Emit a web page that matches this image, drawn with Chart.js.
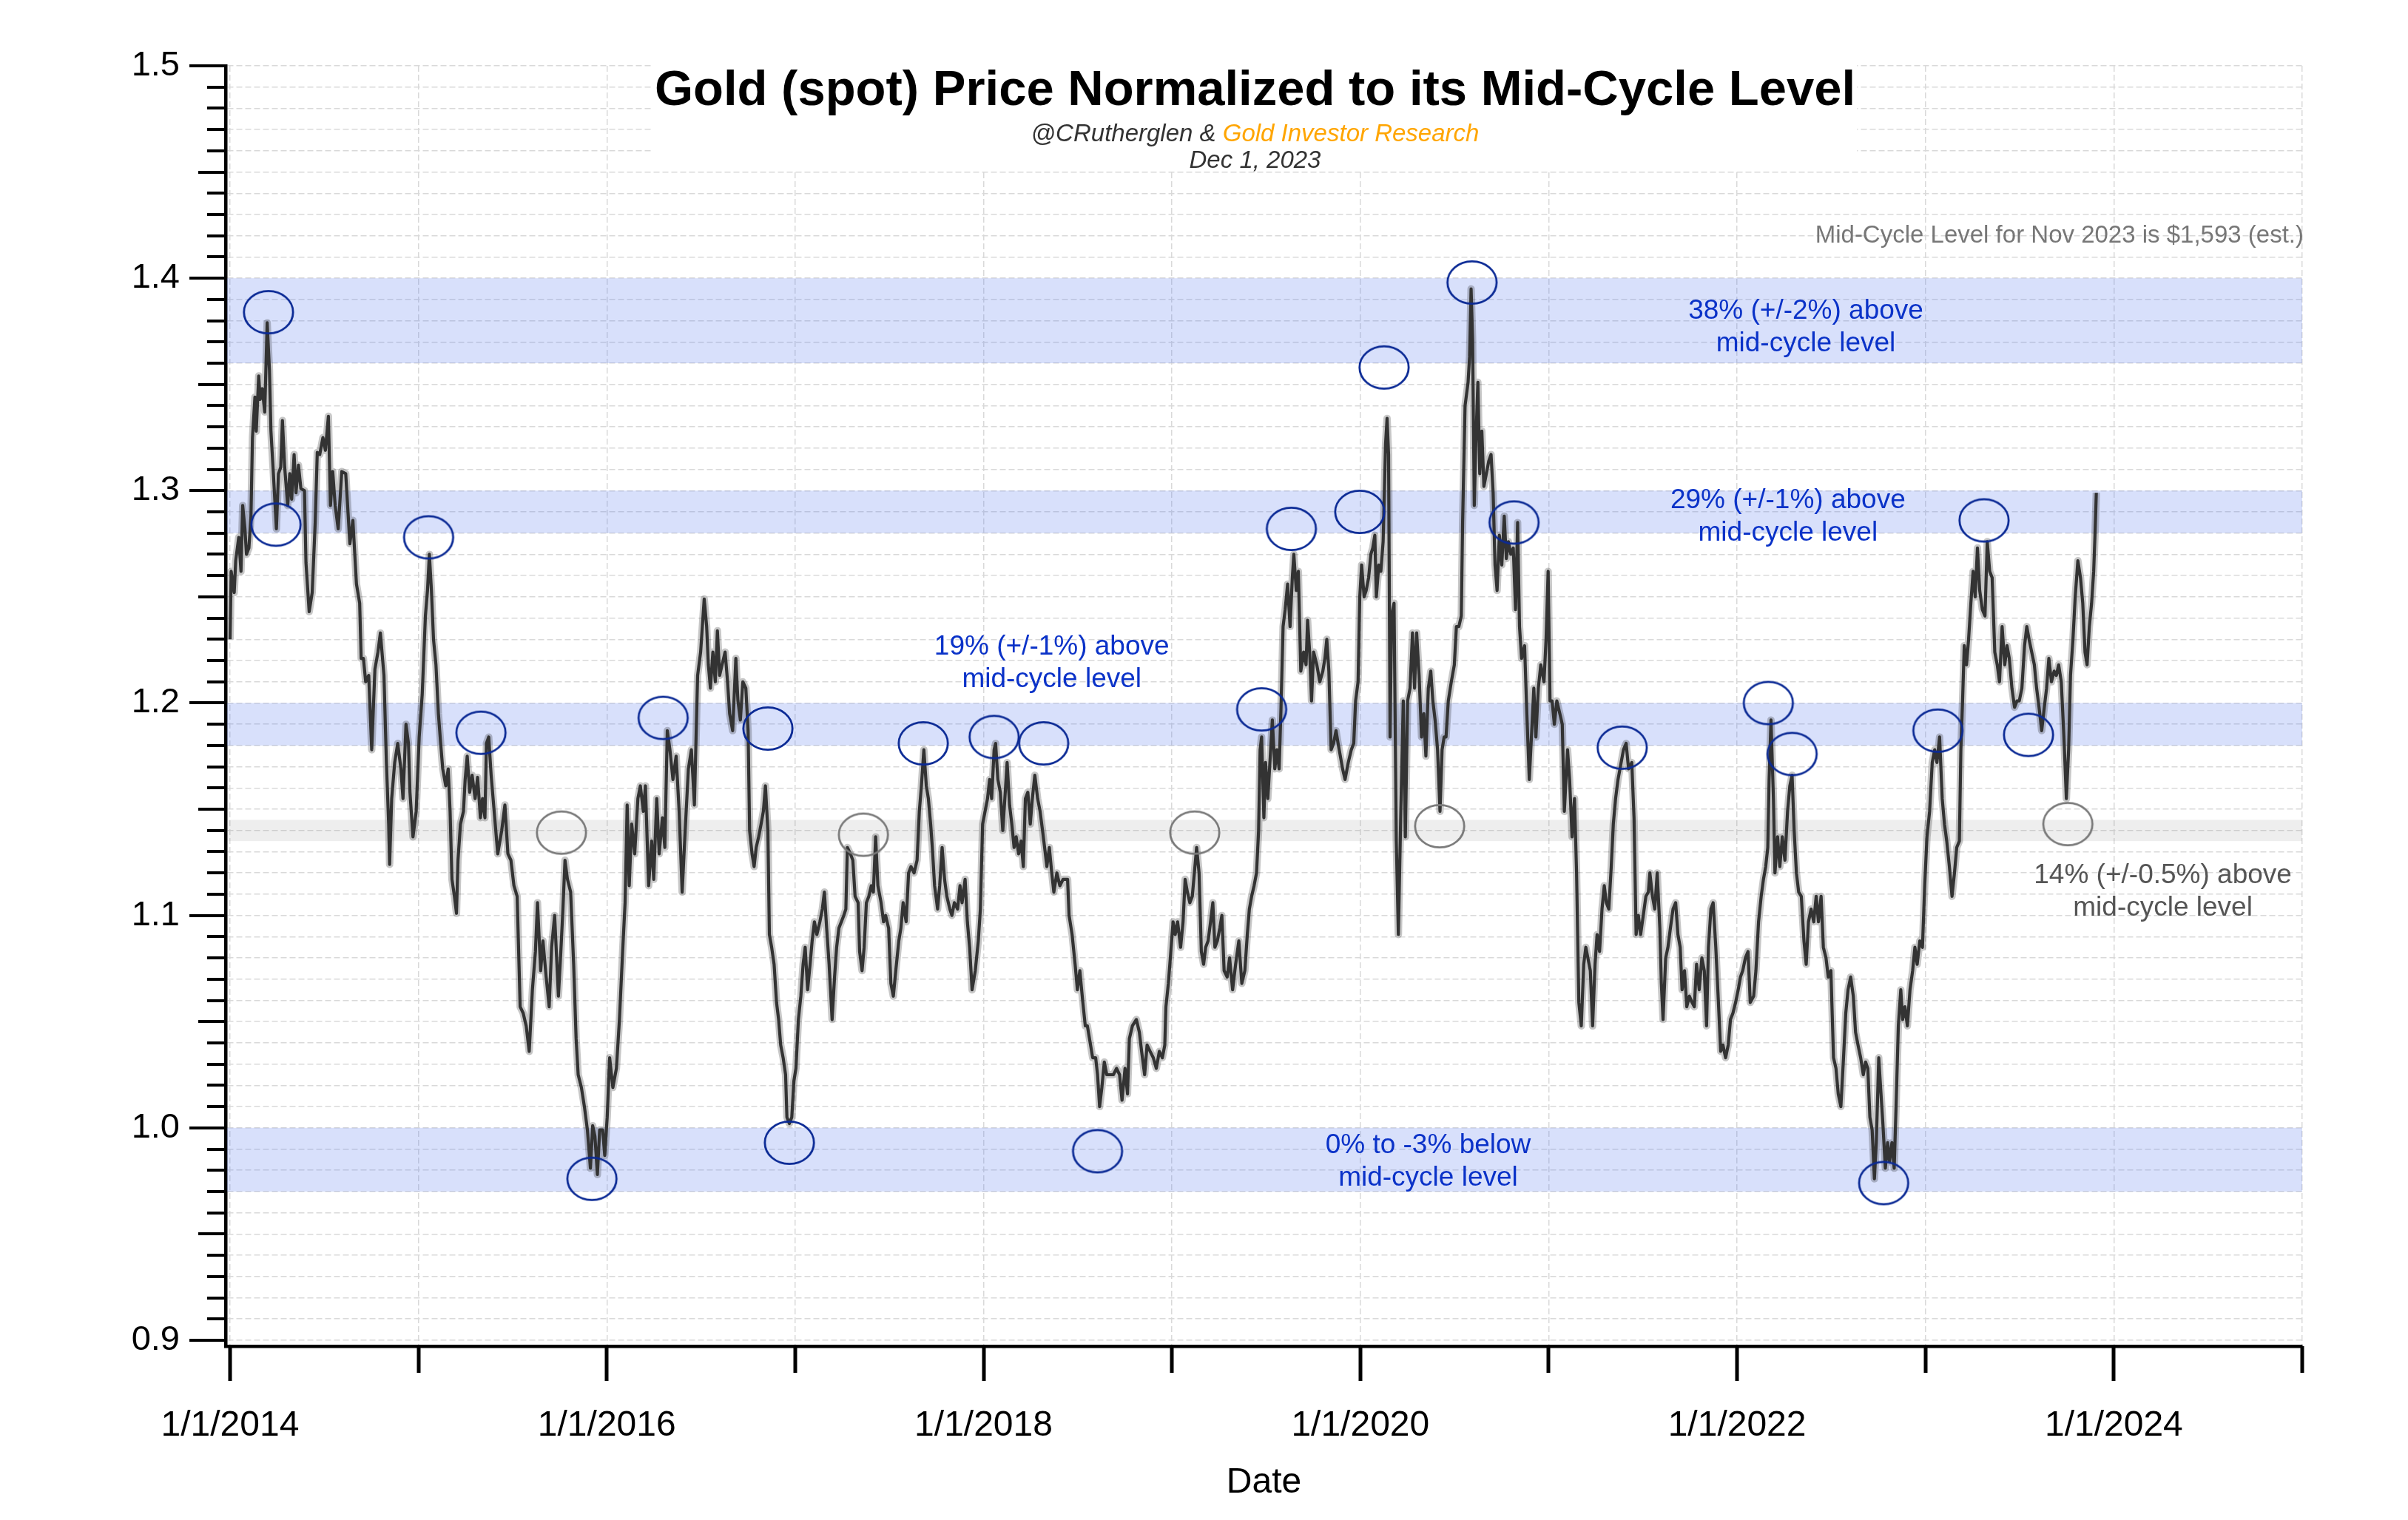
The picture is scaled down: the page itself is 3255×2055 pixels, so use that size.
<!DOCTYPE html>
<html>
<head>
<meta charset="utf-8">
<script src="https://cdn.jsdelivr.net/npm/chart.js@4.4.0/dist/chart.umd.min.js"></script>
<style>
html,body{margin:0;padding:0;background:#fff;}
#wrap{width:3255px;height:2055px;}
</style>
</head>
<body>
<div id="wrap"><canvas id="c" width="3255" height="2055"></canvas></div>
<script>
// ---------------- DATA ----------------
// Gold spot price divided by its mid-cycle level; [decimal year, ratio]
const price2014 = [
[2014.000,1.230],[2014.006,1.262],[2014.022,1.252],[2014.030,1.267],[2014.046,1.278],[2014.058,1.262],[2014.067,1.293],[2014.079,1.282],[2014.087,1.270],[2014.100,1.273],
[2014.111,1.288],[2014.119,1.325],[2014.132,1.344],[2014.139,1.328],[2014.152,1.354],[2014.160,1.343],[2014.171,1.348],[2014.184,1.337],[2014.197,1.379],[2014.209,1.357],
[2014.217,1.328],[2014.230,1.308],[2014.246,1.282],[2014.257,1.308],[2014.269,1.311],[2014.278,1.333],[2014.290,1.311],[2014.306,1.293],[2014.317,1.308],[2014.327,1.296],
[2014.340,1.317],[2014.350,1.299],[2014.363,1.312],[2014.376,1.301],[2014.395,1.300],[2014.403,1.266],[2014.420,1.243],[2014.436,1.252],[2014.452,1.285],[2014.463,1.318],
[2014.476,1.317],[2014.493,1.325],[2014.506,1.319],[2014.522,1.335],[2014.533,1.293],[2014.545,1.309],[2014.558,1.293],[2014.574,1.282],[2014.593,1.309],[2014.614,1.308],
[2014.636,1.275],[2014.652,1.286],[2014.671,1.256],[2014.688,1.247],[2014.696,1.221],[2014.708,1.221],[2014.720,1.210],[2014.736,1.213],[2014.752,1.178],[2014.769,1.216],
[2014.785,1.224],[2014.798,1.233],[2014.817,1.213],[2014.830,1.172],[2014.842,1.143],[2014.847,1.124],[2014.858,1.155],[2014.874,1.172],[2014.890,1.181],[2014.907,1.169],
[2014.918,1.155],[2014.934,1.190],[2014.947,1.181],[2014.955,1.158],[2014.971,1.137],[2014.988,1.149]
];
const price2015 = [
[2015.004,1.184],[2015.020,1.204],[2015.037,1.241],[2015.048,1.253],[2015.058,1.270],[2015.069,1.253],[2015.080,1.230],[2015.093,1.218],[2015.106,1.195],[2015.118,1.181],
[2015.129,1.169],[2015.145,1.161],[2015.158,1.169],[2015.168,1.149],[2015.178,1.117],[2015.191,1.109],[2015.202,1.101],[2015.210,1.126],[2015.223,1.143],[2015.239,1.149],
[2015.248,1.164],[2015.259,1.175],[2015.272,1.158],[2015.285,1.166],[2015.301,1.155],[2015.314,1.165],[2015.329,1.146],[2015.340,1.155],[2015.353,1.146],[2015.361,1.181],
[2015.373,1.184],[2015.386,1.166],[2015.402,1.149],[2015.421,1.129],[2015.442,1.140],[2015.459,1.152],[2015.475,1.129],[2015.491,1.126],[2015.507,1.114],[2015.524,1.109],
[2015.540,1.057],[2015.556,1.054],[2015.572,1.048],[2015.588,1.036],[2015.605,1.065],[2015.621,1.083],[2015.632,1.106],[2015.649,1.074],[2015.661,1.088],[2015.678,1.071],
[2015.694,1.057],[2015.707,1.085],[2015.723,1.100],[2015.743,1.062],[2015.756,1.083],[2015.767,1.103],[2015.778,1.126],[2015.791,1.117],[2015.808,1.111],[2015.824,1.077],
[2015.837,1.042],[2015.848,1.025],[2015.865,1.019],[2015.881,1.010],[2015.897,0.999],[2015.913,0.981],[2015.925,1.001],[2015.937,0.996],[2015.950,0.978],[2015.962,0.999],
[2015.978,0.999],[2015.989,0.987]
];
const price2016 = [
[2016.002,1.005],[2016.015,1.033],[2016.032,1.019],[2016.051,1.028],[2016.067,1.051],[2016.084,1.083],[2016.097,1.106],[2016.108,1.152],[2016.119,1.114],[2016.132,1.143],
[2016.148,1.129],[2016.165,1.155],[2016.178,1.161],[2016.194,1.149],[2016.205,1.161],[2016.222,1.114],[2016.238,1.135],[2016.249,1.117],[2016.265,1.155],[2016.278,1.129],
[2016.295,1.146],[2016.308,1.132],[2016.321,1.187],[2016.335,1.178],[2016.351,1.164],[2016.368,1.175],[2016.384,1.149],[2016.400,1.111],[2016.416,1.140],[2016.433,1.169],
[2016.449,1.178],[2016.465,1.152],[2016.482,1.213],[2016.498,1.224],[2016.517,1.249],[2016.530,1.236],[2016.539,1.218],[2016.550,1.207],[2016.563,1.224],[2016.576,1.210],
[2016.587,1.234],[2016.599,1.213],[2016.612,1.218],[2016.628,1.224],[2016.641,1.210],[2016.652,1.195],[2016.668,1.187],[2016.685,1.221],[2016.696,1.201],[2016.709,1.192],
[2016.722,1.210],[2016.738,1.207],[2016.750,1.187],[2016.758,1.140],[2016.771,1.129],[2016.782,1.123],[2016.793,1.132],[2016.806,1.137],[2016.819,1.143],[2016.831,1.149],
[2016.842,1.161],[2016.855,1.140],[2016.863,1.091],[2016.875,1.085],[2016.888,1.077],[2016.901,1.059],[2016.912,1.051],[2016.923,1.039],[2016.936,1.033],[2016.949,1.025],
[2016.956,1.005],[2016.969,1.002],[2016.982,1.005],[2016.993,1.022]
];
const price2017 = [
[2017.004,1.028],[2017.017,1.051],[2017.030,1.062],[2017.042,1.077],[2017.053,1.085],[2017.066,1.065],[2017.079,1.077],[2017.090,1.088],[2017.102,1.097],[2017.115,1.091],
[2017.131,1.097],[2017.144,1.103],[2017.155,1.111],[2017.167,1.094],[2017.180,1.077],[2017.196,1.051],[2017.209,1.071],[2017.220,1.085],[2017.232,1.094],[2017.245,1.097],
[2017.258,1.100],[2017.269,1.103],[2017.277,1.132],[2017.293,1.129],[2017.306,1.126],[2017.318,1.109],[2017.334,1.106],[2017.342,1.083],[2017.355,1.074],[2017.366,1.085],
[2017.378,1.106],[2017.391,1.109],[2017.404,1.114],[2017.415,1.111],[2017.427,1.137],[2017.439,1.114],[2017.456,1.106],[2017.469,1.097],[2017.480,1.100],[2017.496,1.094],
[2017.508,1.068],[2017.521,1.062],[2017.534,1.074],[2017.550,1.088],[2017.561,1.094],[2017.573,1.106],[2017.589,1.097],[2017.602,1.120],[2017.615,1.123],[2017.631,1.120],
[2017.647,1.126],[2017.659,1.149],[2017.670,1.161],[2017.683,1.178],[2017.696,1.161],[2017.707,1.155],[2017.719,1.143],[2017.728,1.132],[2017.740,1.114],[2017.756,1.103],
[2017.767,1.114],[2017.780,1.132],[2017.793,1.117],[2017.805,1.109],[2017.821,1.103],[2017.832,1.100],[2017.845,1.106],[2017.862,1.103],[2017.875,1.114],[2017.886,1.106],
[2017.902,1.117],[2017.914,1.097],[2017.926,1.085],[2017.939,1.065],[2017.956,1.074],[2017.972,1.088],[2017.983,1.103],[2017.995,1.143]
];
const price2018 = [
[2018.008,1.149],[2018.021,1.155],[2018.032,1.164],[2018.043,1.155],[2018.056,1.178],[2018.064,1.181],[2018.076,1.164],[2018.089,1.158],[2018.102,1.140],[2018.113,1.155],
[2018.125,1.172],[2018.138,1.152],[2018.150,1.143],[2018.162,1.132],[2018.173,1.137],[2018.186,1.129],[2018.199,1.135],[2018.211,1.123],[2018.222,1.155],[2018.235,1.158],
[2018.248,1.143],[2018.259,1.155],[2018.272,1.166],[2018.287,1.155],[2018.300,1.149],[2018.313,1.140],[2018.324,1.132],[2018.336,1.123],[2018.349,1.132],[2018.362,1.120],
[2018.373,1.111],[2018.389,1.120],[2018.405,1.114],[2018.422,1.117],[2018.446,1.117],[2018.454,1.100],[2018.470,1.091],[2018.486,1.077],[2018.498,1.065],[2018.511,1.074],
[2018.527,1.059],[2018.540,1.048],[2018.551,1.048],[2018.568,1.039],[2018.579,1.033],[2018.595,1.033],[2018.605,1.025],[2018.616,1.010],[2018.628,1.019],[2018.641,1.031],
[2018.654,1.025],[2018.670,1.025],[2018.689,1.025],[2018.706,1.028],[2018.722,1.025],[2018.735,1.013],[2018.751,1.028],[2018.764,1.016],[2018.774,1.042],[2018.790,1.048],
[2018.811,1.051],[2018.827,1.045],[2018.839,1.036],[2018.855,1.025],[2018.868,1.039],[2018.884,1.036],[2018.901,1.033],[2018.917,1.028],[2018.933,1.036],[2018.949,1.033],
[2018.962,1.039],[2018.968,1.057],[2018.981,1.068],[2018.994,1.083]
];
const price2019 = [
[2019.006,1.097],[2019.017,1.091],[2019.030,1.097],[2019.046,1.085],[2019.059,1.097],[2019.070,1.117],[2019.082,1.111],[2019.095,1.106],[2019.108,1.109],[2019.119,1.120],
[2019.131,1.132],[2019.144,1.120],[2019.156,1.083],[2019.168,1.077],[2019.179,1.085],[2019.192,1.088],[2019.205,1.097],[2019.217,1.106],[2019.228,1.085],[2019.241,1.088],
[2019.254,1.094],[2019.265,1.100],[2019.277,1.074],[2019.293,1.071],[2019.306,1.080],[2019.322,1.065],[2019.338,1.077],[2019.355,1.088],[2019.371,1.068],[2019.387,1.074],
[2019.400,1.091],[2019.411,1.103],[2019.423,1.109],[2019.436,1.114],[2019.449,1.120],[2019.460,1.140],[2019.468,1.178],[2019.476,1.184],[2019.488,1.146],[2019.497,1.172],
[2019.509,1.155],[2019.520,1.172],[2019.533,1.192],[2019.546,1.169],[2019.557,1.178],[2019.569,1.169],[2019.579,1.198],[2019.590,1.236],[2019.601,1.244],[2019.614,1.256],
[2019.627,1.236],[2019.639,1.259],[2019.647,1.270],[2019.660,1.253],[2019.671,1.262],[2019.684,1.215],[2019.699,1.224],[2019.712,1.218],[2019.720,1.239],[2019.731,1.224],
[2019.741,1.201],[2019.752,1.224],[2019.769,1.218],[2019.785,1.210],[2019.801,1.215],[2019.812,1.221],[2019.822,1.230],[2019.833,1.215],[2019.845,1.178],[2019.858,1.181],
[2019.871,1.187],[2019.882,1.181],[2019.894,1.175],[2019.906,1.169],[2019.919,1.164],[2019.936,1.172],[2019.952,1.178],[2019.965,1.181],[2019.975,1.201],[2019.988,1.210],
[2019.997,1.250]
];
const price2020 = [
[2020.007,1.265],[2020.020,1.250],[2020.031,1.253],[2020.044,1.259],[2020.056,1.270],[2020.066,1.273],[2020.077,1.279],[2020.085,1.250],[2020.098,1.265],[2020.109,1.262],
[2020.121,1.276],[2020.134,1.322],[2020.142,1.334],[2020.150,1.317],[2020.158,1.184],[2020.166,1.241],[2020.179,1.247],[2020.191,1.135],[2020.202,1.091],[2020.215,1.149],
[2020.228,1.201],[2020.239,1.137],[2020.251,1.201],[2020.264,1.207],[2020.277,1.233],[2020.288,1.207],[2020.299,1.233],[2020.312,1.213],[2020.325,1.184],[2020.337,1.195],
[2020.348,1.175],[2020.361,1.207],[2020.374,1.215],[2020.385,1.201],[2020.397,1.192],[2020.410,1.178],[2020.423,1.149],[2020.434,1.178],[2020.445,1.184],[2020.455,1.184],
[2020.467,1.201],[2020.483,1.210],[2020.499,1.218],[2020.510,1.236],[2020.523,1.236],[2020.536,1.241],[2020.543,1.285],[2020.556,1.340],[2020.572,1.351],[2020.580,1.363],
[2020.588,1.395],[2020.596,1.371],[2020.605,1.293],[2020.613,1.322],[2020.624,1.351],[2020.634,1.308],[2020.645,1.328],[2020.656,1.302],[2020.669,1.308],[2020.682,1.314],
[2020.694,1.317],[2020.705,1.299],[2020.715,1.265],[2020.726,1.253],[2020.738,1.279],[2020.751,1.265],[2020.764,1.288],[2020.775,1.268],[2020.786,1.276],[2020.799,1.270],
[2020.812,1.273],[2020.824,1.244],[2020.835,1.285],[2020.845,1.236],[2020.856,1.221],[2020.872,1.227],[2020.884,1.195],[2020.897,1.164],[2020.910,1.187],[2020.921,1.207],
[2020.932,1.184],[2020.945,1.207],[2020.958,1.218],[2020.975,1.210],[2020.986,1.230],[2020.997,1.262]
];
const price2021 = [
[2021.007,1.201],[2021.018,1.201],[2021.030,1.190],[2021.043,1.201],[2021.059,1.195],[2021.072,1.190],[2021.083,1.149],[2021.100,1.178],[2021.111,1.164],[2021.124,1.137],
[2021.137,1.155],[2021.148,1.120],[2021.160,1.059],[2021.173,1.048],[2021.186,1.077],[2021.197,1.085],[2021.208,1.080],[2021.221,1.074],[2021.233,1.048],[2021.246,1.077],
[2021.257,1.091],[2021.270,1.083],[2021.283,1.103],[2021.295,1.114],[2021.306,1.106],[2021.319,1.103],[2021.332,1.123],[2021.343,1.143],[2021.355,1.155],[2021.368,1.164],
[2021.397,1.178],[2021.411,1.181],[2021.424,1.169],[2021.441,1.172],[2021.453,1.146],[2021.464,1.091],[2021.476,1.100],[2021.488,1.091],[2021.502,1.100],[2021.516,1.109],
[2021.529,1.111],[2021.537,1.120],[2021.551,1.109],[2021.563,1.103],[2021.576,1.120],[2021.590,1.094],[2021.598,1.068],[2021.607,1.051],[2021.621,1.080],[2021.633,1.085],
[2021.646,1.094],[2021.660,1.103],[2021.674,1.106],[2021.686,1.091],[2021.698,1.085],[2021.708,1.065],[2021.721,1.074],[2021.733,1.057],[2021.747,1.062],[2021.761,1.059],
[2021.773,1.057],[2021.785,1.077],[2021.799,1.065],[2021.813,1.080],[2021.826,1.074],[2021.838,1.048],[2021.848,1.085],[2021.861,1.103],[2021.873,1.106],[2021.887,1.085],
[2021.901,1.059],[2021.913,1.036],[2021.925,1.039],[2021.939,1.033],[2021.953,1.039],[2021.965,1.051],[2021.978,1.054],[2021.992,1.059]
];
const price2022 = [
[2022.006,1.065],[2022.018,1.071],[2022.030,1.074],[2022.044,1.080],[2022.058,1.083],[2022.070,1.059],[2022.088,1.062],[2022.100,1.074],[2022.114,1.097],[2022.128,1.109],
[2022.140,1.117],[2022.152,1.123],[2022.163,1.132],[2022.170,1.164],[2022.180,1.192],[2022.193,1.155],[2022.201,1.120],[2022.215,1.137],[2022.227,1.123],[2022.240,1.137],
[2022.254,1.126],[2022.268,1.149],[2022.280,1.161],[2022.292,1.166],[2022.303,1.140],[2022.315,1.120],[2022.327,1.111],[2022.341,1.109],[2022.355,1.088],[2022.367,1.077],
[2022.379,1.097],[2022.393,1.103],[2022.407,1.097],[2022.420,1.109],[2022.432,1.097],[2022.446,1.109],[2022.458,1.085],[2022.472,1.080],[2022.484,1.071],[2022.498,1.074],
[2022.512,1.033],[2022.525,1.028],[2022.537,1.016],[2022.551,1.010],[2022.565,1.033],[2022.577,1.054],[2022.589,1.065],[2022.603,1.071],[2022.617,1.062],[2022.629,1.045],
[2022.642,1.039],[2022.656,1.033],[2022.670,1.025],[2022.682,1.031],[2022.694,1.028],[2022.705,1.005],[2022.717,0.999],[2022.729,0.976],[2022.739,0.993],[2022.752,1.033],
[2022.764,1.016],[2022.774,1.002],[2022.787,0.981],[2022.799,0.993],[2022.809,0.984],[2022.822,0.993],[2022.834,0.981],[2022.844,1.010],[2022.856,1.048],[2022.869,1.065],
[2022.879,1.051],[2022.891,1.057],[2022.904,1.048],[2022.918,1.065],[2022.932,1.074],[2022.944,1.085],[2022.956,1.077],[2022.970,1.088],[2022.984,1.085],[2022.996,1.114]
];
const price2023 = [
[2023.008,1.137],[2023.022,1.149],[2023.036,1.172],[2023.049,1.178],[2023.061,1.172],[2023.075,1.184],[2023.089,1.155],[2023.101,1.143],[2023.113,1.135],[2023.127,1.123],
[2023.141,1.109],[2023.154,1.120],[2023.166,1.132],[2023.180,1.135],[2023.188,1.178],[2023.197,1.201],[2023.206,1.227],[2023.218,1.218],[2023.229,1.230],[2023.241,1.247],
[2023.253,1.262],[2023.264,1.250],[2023.276,1.273],[2023.288,1.253],[2023.302,1.244],[2023.316,1.241],[2023.328,1.276],[2023.341,1.262],[2023.354,1.259],[2023.368,1.224],
[2023.381,1.218],[2023.393,1.210],[2023.407,1.236],[2023.421,1.218],[2023.433,1.227],[2023.445,1.221],[2023.459,1.207],[2023.473,1.198],[2023.486,1.201],[2023.498,1.201],
[2023.512,1.207],[2023.526,1.227],[2023.538,1.236],[2023.550,1.230],[2023.564,1.224],[2023.578,1.218],[2023.590,1.207],[2023.603,1.198],[2023.617,1.187],[2023.631,1.198],
[2023.643,1.207],[2023.655,1.221],[2023.669,1.210],[2023.683,1.215],[2023.695,1.213],[2023.707,1.218],[2023.721,1.210],[2023.735,1.184],[2023.748,1.155],[2023.760,1.178],
[2023.770,1.213],[2023.783,1.230],[2023.795,1.250],[2023.809,1.267],[2023.823,1.259],[2023.835,1.247],[2023.847,1.224],[2023.858,1.218],[2023.870,1.236],[2023.882,1.247],
[2023.893,1.262],[2023.900,1.279],[2023.907,1.299]
];

// circled turning points
const blueMarks = [
[2014.204,1.384],[2014.244,1.284],[2015.054,1.278],[2015.332,1.186],[2015.921,0.976],[2016.299,1.193],[2016.855,1.188],
[2016.969,0.993],[2017.680,1.181],[2018.056,1.184],[2018.319,1.181],[2018.605,0.989],[2019.476,1.197],[2019.634,1.282],
[2019.997,1.290],[2020.126,1.358],[2020.593,1.398],[2020.816,1.285],[2021.390,1.179],[2022.166,1.200],[2022.292,1.176],
[2022.778,0.974],[2023.066,1.187],[2023.311,1.286],[2023.547,1.185]
];
const greyMarks = [[2015.759,1.139],[2017.362,1.138],[2019.121,1.139],[2020.421,1.142],[2023.756,1.143]];

// bands (ratio to mid-cycle level)
const blueBandLow  = [1.36, 1.28, 1.18, 0.97];
const blueBandHigh = [1.40, 1.30, 1.20, 1.00];
const greyBandLow  = [1.135];
const greyBandHigh = [1.145];

const bandTextBlue = [
  ['38% (+/-2%) above', 'mid-cycle level'],
  ['29% (+/-1%) above', 'mid-cycle level'],
  ['19% (+/-1%) above', 'mid-cycle level'],
  ['0% to -3% below', 'mid-cycle level']
];
const bandTextGrey = [['14% (+/-0.5%) above', 'mid-cycle level']];

// axis ticks
const yMajorTicks = [0.9, 1.0, 1.1, 1.2, 1.3, 1.4, 1.5];
const xTickYears  = [2014, 2015, 2016, 2017, 2018, 2019, 2020, 2021, 2022, 2023, 2024, 2025];
const xLabelYears = [2014, 2016, 2018, 2020, 2022, 2024];
const xTickLabels = ['1/1/2014', '1/1/2016', '1/1/2018', '1/1/2020', '1/1/2022', '1/1/2024'];

const TITLE = 'Gold (spot) Price Normalized to its Mid-Cycle Level';
const SUB_A = '@CRutherglen & ';
const SUB_B = 'Gold Investor Research';
const DATE_TXT = 'Dec 1, 2023';
const NOTE = 'Mid-Cycle Level for Nov 2023 is $1,593 (est.)';

// ---------------- STYLE ----------------
const FONT = "'Liberation Sans', Arial, Helvetica, sans-serif";
const BLUE_TXT = '#0a32c8';
const BLUE_MARK = '#0b2a95';
const GREY_MARK = '#7a7a7a';
const near = (v, step) => Math.abs(v / step - Math.round(v / step)) < 1e-6;

const yTickValues = [];
for (let i = 0; i < yMajorTicks.length - 1; i++) {
  for (let k = 0; k < 10; k++) yTickValues.push(Math.round((yMajorTicks[i] + k * 0.01) * 100) / 100);
}
yTickValues.push(yMajorTicks[yMajorTicks.length - 1]);

// label anchors in data coordinates (year, ratio)
const bandTextPosBlue = [[2022.365, 1.3767], [2022.27, 1.2878], [2018.362, 1.2188], [2020.36, 0.984]];
const bandTextPosGrey = [[2024.26, 1.111]];

function ellipseImg(color) {
  const c = document.createElement('canvas');
  c.width = 72; c.height = 64;
  const g = c.getContext('2d');
  g.strokeStyle = color; g.lineWidth = 2.8;
  g.beginPath(); g.ellipse(36, 32, 33.2, 28.6, 0, 0, Math.PI * 2); g.stroke();
  return c;
}

const priceSeries = [].concat(price2014, price2015, price2016, price2017, price2018,
  price2019, price2020, price2021, price2022, price2023).map(([x, y]) => ({x, y}));

// ---------------- PLUGINS ----------------
const bandPlugin = {
  id: 'bands',
  beforeDatasetsDraw(chart) {
    const {ctx, chartArea: a, scales: {y}} = chart;
    ctx.save();
    ctx.fillStyle = 'rgba(100,130,240,0.25)';
    blueBandLow.forEach((lo, i) => {
      const y1 = y.getPixelForValue(blueBandHigh[i]), y2 = y.getPixelForValue(lo);
      ctx.fillRect(a.left + 2, y1, a.right - a.left - 2, y2 - y1);
    });
    ctx.fillStyle = 'rgba(120,120,120,0.13)';
    greyBandLow.forEach((lo, i) => {
      const y1 = y.getPixelForValue(greyBandHigh[i]), y2 = y.getPixelForValue(lo);
      ctx.fillRect(a.left + 2, y1, a.right - a.left - 2, y2 - y1);
    });
    ctx.restore();
  },
  afterDatasetsDraw(chart) {
    const {ctx, scales: {x, y}} = chart;
    ctx.save();
    ctx.textAlign = 'center'; ctx.textBaseline = 'middle';
    ctx.font = `37px ${FONT}`;
    const draw = (lines, pos, color) => {
      const px = x.getPixelForValue(pos[0]), py = y.getPixelForValue(pos[1]);
      ctx.fillStyle = color;
      ctx.fillText(lines[0], px, py - 22);
      ctx.fillText(lines[1], px, py + 22);
    };
    bandTextBlue.forEach((l, i) => draw(l, bandTextPosBlue[i], BLUE_TXT));
    bandTextGrey.forEach((l, i) => draw(l, bandTextPosGrey[i], '#555555'));
    ctx.restore();
  }
};

const tickPlugin = {
  id: 'tickmarks',
  afterDraw(chart) {
    const {ctx, chartArea: a, scales: {x, y}} = chart;
    ctx.save();
    ctx.strokeStyle = '#000'; ctx.lineCap = 'butt';
    ctx.lineWidth = 4;
    y.ticks.forEach(t => {
      const v = t.value, py = Math.round(y.getPixelForValue(v));
      const len = near(v, 0.1) ? 49 : (near(v, 0.05) ? 37 : 25);
      ctx.beginPath(); ctx.moveTo(a.left - len, py); ctx.lineTo(a.left, py); ctx.stroke();
    });
    ctx.lineWidth = 5;
    x.ticks.forEach(t => {
      const v = t.value, px = Math.round(x.getPixelForValue(v));
      const len = xLabelYears.includes(v) ? 47 : 36;
      ctx.beginPath(); ctx.moveTo(px, a.bottom); ctx.lineTo(px, a.bottom + len); ctx.stroke();
    });
    ctx.restore();
  }
};

const titlePlugin = {
  id: 'titles',
  afterDraw(chart) {
    const {ctx, chartArea: a} = chart;
    const cx = (a.left + a.right) / 2 - 12;
    ctx.save();
    ctx.font = `bold 67px ${FONT}`;
    const tw = ctx.measureText(TITLE).width;
    ctx.fillStyle = '#ffffff';
    ctx.fillRect(cx - tw / 2 - 2, 74, tw + 4, 155);
    ctx.fillStyle = '#000000';
    ctx.textAlign = 'center'; ctx.textBaseline = 'middle';
    ctx.fillText(TITLE, cx, 124);
    ctx.font = `italic 33px ${FONT}`;
    const wa = ctx.measureText(SUB_A).width, wb = ctx.measureText(SUB_B).width;
    const x0 = cx - (wa + wb) / 2;
    ctx.textAlign = 'left';
    ctx.fillStyle = '#333333'; ctx.fillText(SUB_A, x0, 182);
    ctx.fillStyle = '#FFA500'; ctx.fillText(SUB_B, x0 + wa, 182);
    ctx.textAlign = 'center'; ctx.fillStyle = '#333333';
    ctx.fillText(DATE_TXT, cx, 218);
    ctx.font = `33px ${FONT}`;
    ctx.fillStyle = '#777777'; ctx.textAlign = 'right';
    ctx.fillText(NOTE, a.right + 2, 319);
    ctx.restore();
  }
};

// ---------------- CHART ----------------
Chart.defaults.font.family = FONT;
Chart.defaults.color = '#000';

new Chart(document.getElementById('c'), {
  type: 'line',
  data: {
    datasets: [
      { label: 'Blue marks', data: blueMarks.map(([x, y]) => ({x, y})), showLine: false,
        pointStyle: ellipseImg(BLUE_MARK), pointRadius: 30, order: 0 },
      { label: 'Grey marks', data: greyMarks.map(([x, y]) => ({x, y})), showLine: false,
        pointStyle: ellipseImg(GREY_MARK), pointRadius: 30, order: 0 },
      { label: 'Gold normalized', data: priceSeries, borderColor: '#333333', borderWidth: 4.2,
        pointRadius: 0, tension: 0, borderJoinStyle: 'round', order: 1 },
      { label: 'range', data: priceSeries, borderColor: 'rgba(0,0,0,0.22)', borderWidth: 10,
        pointRadius: 0, tension: 0, borderJoinStyle: 'round', order: 2 }
    ]
  },
  options: {
    responsive: false,
    devicePixelRatio: 1,
    animation: false,
    events: [],
    layout: { padding: { top: 89, right: 143, left: 0, bottom: 0 } },
    plugins: { legend: { display: false }, tooltip: { enabled: false }, title: { display: false } },
    scales: {
      x: {
        type: 'linear',
        min: 2013.9765, max: 2025,
        afterBuildTicks: s => { s.ticks = xTickYears.map(v => ({value: v})); },
        afterFit: s => { s.height = 235; s.paddingLeft = 0; s.paddingRight = 0; },
        grid: { color: '#d9d9d9', lineWidth: 1.5, drawTicks: false },
        border: { display: true, color: '#000', width: 4.5, dash: [8, 4] },
        ticks: {
          autoSkip: false, maxRotation: 0, minRotation: 0, padding: 79,
          font: { size: 48 }, color: '#000',
          callback: v => { const i = xLabelYears.indexOf(v); return i >= 0 ? xTickLabels[i] : ''; }
        },
        title: { display: true, text: 'Date', font: { size: 48 }, color: '#000', padding: { top: 0, bottom: 21 } }
      },
      y: {
        type: 'linear',
        min: 0.8972, max: 1.5,
        afterBuildTicks: s => { s.ticks = yTickValues.map(v => ({value: v})); },
        afterFit: s => { s.width = 305; s.paddingTop = 0; s.paddingBottom = 0; },
        grid: { color: '#d9d9d9', lineWidth: 1.5, drawTicks: false },
        border: { display: true, color: '#000', width: 4.5, dash: [8, 4] },
        ticks: {
          autoSkip: false, padding: 62, font: { size: 47 }, color: '#000',
          callback: v => near(v, 0.1) ? v.toFixed(1) : ''
        }
      }
    }
  },
  plugins: [bandPlugin, tickPlugin, titlePlugin]
});
</script>
</body>
</html>
